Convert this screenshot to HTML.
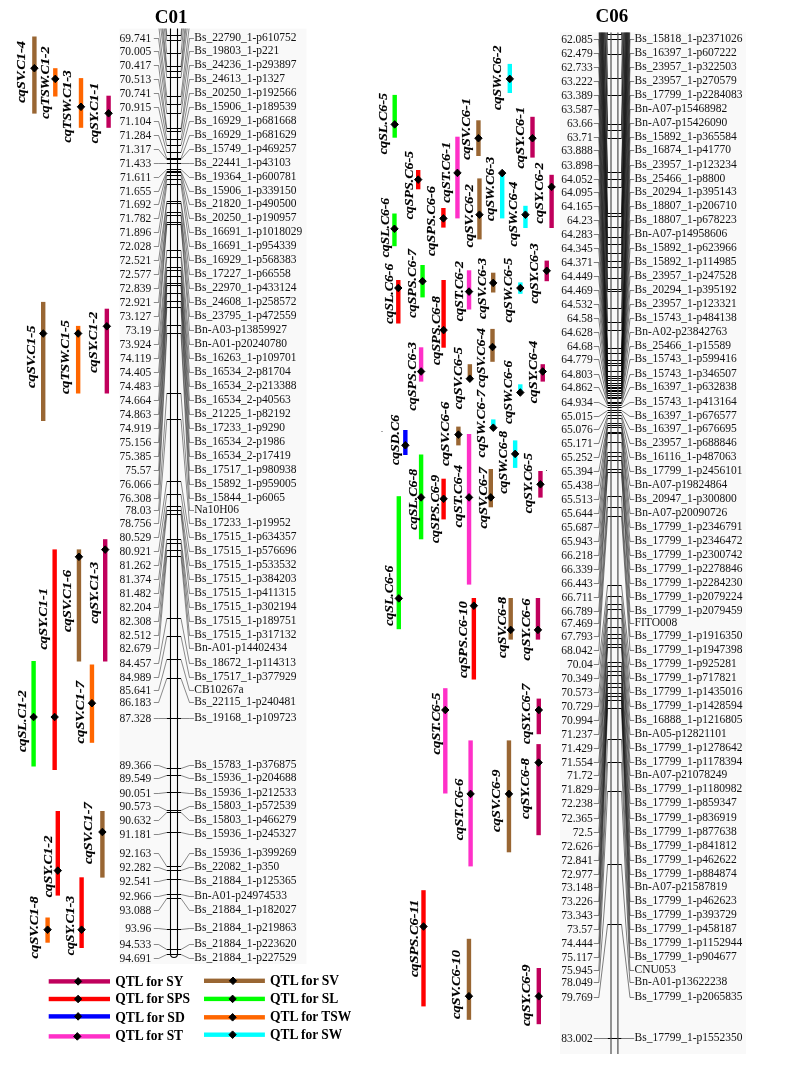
<!DOCTYPE html><html><head><meta charset="utf-8"><style>
html,body{margin:0;padding:0;background:#fff;overflow:hidden}
svg{display:block}
text{font-family:"Liberation Serif","Times New Roman",serif}
.n{font-size:11.5px;text-anchor:end;fill:#111}
.m{font-size:11.5px;fill:#111}
.q{font-size:13.3px;font-weight:bold;font-style:italic;fill:#000;stroke:#000;stroke-width:0.15px}
.t{font-size:19px;font-weight:bold;fill:#000}
.l{font-size:13.7px;font-weight:bold;fill:#000}
</style></head><body>
<svg width="785" height="1071" viewBox="0 0 785 1071">
<defs><clipPath id="k1"><rect x="119.5" y="28.6" width="187" height="935.4"/></clipPath><clipPath id="k6"><rect x="560" y="32.4" width="186" height="1021.6"/></clipPath></defs>
<rect x="119.5" y="28.6" width="187" height="935.4" fill="#f9f9f9"/>
<rect x="560" y="32.4" width="186" height="1021.6" fill="#f9f9f9"/>
<text class="t" x="171.2" y="23.1" text-anchor="middle">C01</text>
<text class="t" x="611.9" y="21.5" text-anchor="middle">C06</text>
<g clip-path="url(#k1)">
<path d="M153.8 38.5H158.6L166.8 104.5M181 104.5L189.5 38.5H194M153.8 51.5H158.6L166.8 113.5M181 113.5L189.5 51.5H194M153.8 65.5H158.6L166.8 128.5M181 128.5L189.5 65.5H194M153.8 79.5H158.6L166.8 131.5M181 131.5L189.5 79.5H194M153.8 93.5H158.6L166.8 139.5M181 139.5L189.5 93.5H194M153.8 107.5H158.6L166.8 145.5M181 145.5L189.5 107.5H194M153.8 121.5H158.6L166.8 152.5M181 152.5L189.5 121.5H194M153.8 135.5H158.6L166.8 158.5M181 158.5L189.5 135.5H194M153.8 149.5H158.6L166.8 159.5M181 159.5L189.5 149.5H194M153.8 163.5H158.6L166.8 163.5M181 163.5L189.5 163.5H194M153.8 177.5H158.6L166.8 169.5M181 169.5L189.5 177.5H194M153.8 191.5H158.6L166.8 171.5M181 171.5L189.5 191.5H194M153.8 204.5H158.6L166.8 172.5M181 172.5L189.5 204.5H194M153.8 218.5H158.6L166.8 175.5M181 175.5L189.5 218.5H194M153.8 232.5H158.6L166.8 179.5M181 179.5L189.5 232.5H194M153.8 246.5H158.6L166.8 184.5M181 184.5L189.5 246.5H194M153.8 260.5H158.6L166.8 201.5M181 201.5L189.5 260.5H194M153.8 274.5H158.6L166.8 203.5M181 203.5L189.5 274.5H194M153.8 288.5H158.6L166.8 212.5M181 212.5L189.5 288.5H194M153.8 302.5H158.6L166.8 215.5M181 215.5L189.5 302.5H194M153.8 316.5H158.6L166.8 222.5M181 222.5L189.5 316.5H194M153.8 330.5H158.6L166.8 224.5M181 224.5L189.5 330.5H194M153.8 344.5H158.6L166.8 250.5M181 250.5L189.5 344.5H194M153.8 358.5H158.6L166.8 257.5M181 257.5L189.5 358.5H194M153.8 372.5H158.6L166.8 267.5M181 267.5L189.5 372.5H194M153.8 386.5H158.6L166.8 270.5M181 270.5L189.5 386.5H194M153.8 400.5H158.6L166.8 276.5M181 276.5L189.5 400.5H194M153.8 414.5H158.6L166.8 283.5M181 283.5L189.5 414.5H194M153.8 428.5H158.6L166.8 285.5M181 285.5L189.5 428.5H194M153.8 442.5H158.6L166.8 293.5M181 293.5L189.5 442.5H194M153.8 456.5H158.6L166.8 301.5M181 301.5L189.5 456.5H194M153.8 470.5H158.6L166.8 307.5M181 307.5L189.5 470.5H194M153.8 484.5H158.6L166.8 325.5M181 325.5L189.5 484.5H194M153.8 498.5H158.6L166.8 333.5M181 333.5L189.5 498.5H194M153.8 510.5H158.6L166.8 393.5M181 393.5L189.5 510.5H194M153.8 523.5H158.6L166.8 419.5M181 419.5L189.5 523.5H194M153.8 537.5H158.6L166.8 481.5M181 481.5L189.5 537.5H194M153.8 551.5H158.6L166.8 494.5M181 494.5L189.5 551.5H194M153.8 565.5H158.6L166.8 506.5M181 506.5L189.5 565.5H194M153.8 579.5H158.6L166.8 510.5M181 510.5L189.5 579.5H194M153.8 593.5H158.6L166.8 514.5M181 514.5L189.5 593.5H194M153.8 607.5H158.6L166.8 539.5M181 539.5L189.5 607.5H194M153.8 621.5H158.6L166.8 543.5M181 543.5L189.5 621.5H194M153.8 635.5H158.6L166.8 550.5M181 550.5L189.5 635.5H194M153.8 648.5H158.6L166.8 556.5M181 556.5L189.5 648.5H194M153.8 663.5H158.6L166.8 618.5M181 618.5L189.5 663.5H194M153.8 677.5H158.6L166.8 636.5M181 636.5L189.5 677.5H194M153.8 690.5H158.6L166.8 659.5M181 659.5L189.5 690.5H194M153.8 702.5H158.6L166.8 678.5M181 678.5L189.5 702.5H194M153.8 718.5H158.6L166.8 718.5M181 718.5L189.5 718.5H194M153.8 765.5H158.6L166.8 768.5M181 768.5L189.5 765.5H194M153.8 778.5H158.6L166.8 775.5M181 775.5L189.5 778.5H194M153.8 793.5H158.6L166.8 792.5M181 792.5L189.5 793.5H194M153.8 806.5H158.6L166.8 810.5M181 810.5L189.5 806.5H194M153.8 820.5H158.6L166.8 812.5M181 812.5L189.5 820.5H194M153.8 834.5H158.6L166.8 832.5M181 832.5L189.5 834.5H194M153.8 853.5H158.6L166.8 866.5M181 866.5L189.5 853.5H194M153.8 867.5H158.6L166.8 870.5M181 870.5L189.5 867.5H194M153.8 881.5H158.6L166.8 879.5M181 879.5L189.5 881.5H194M153.8 896.5H158.6L166.8 894.5M181 894.5L189.5 896.5H194M153.8 910.5H158.6L166.8 898.5M181 898.5L189.5 910.5H194M153.8 928.5H158.6L166.8 929.5M181 929.5L189.5 928.5H194M153.8 944.5H158.6L166.8 949.5M181 949.5L189.5 944.5H194M153.8 958.5H158.6L166.8 954.5M181 954.5L189.5 958.5H194M158.6 24.63L166.8 96.5M181 96.5L189.5 24.63M158.6 10.76L166.8 77.5M181 77.5L189.5 10.76M158.6 -3.11L166.8 71.5M181 71.5L189.5 -3.11M158.6 -16.98L166.8 66.5M181 66.5L189.5 -16.98M158.6 -30.85L166.8 53.5M181 53.5L189.5 -30.85M158.6 -44.72L166.8 40.5M181 40.5L189.5 -44.72M158.6 -58.59L166.8 35.5M181 35.5L189.5 -58.59" fill="none" stroke="#000" stroke-opacity="0.45" stroke-width="1"/>
<path d="M166.8 104.5H181M166.8 113.5H181M166.8 128.5H181M166.8 131.5H181M166.8 139.5H181M166.8 145.5H181M166.8 152.5H181M166.8 158.5H181M166.8 159.5H181M166.8 163.5H181M166.8 169.5H181M166.8 171.5H181M166.8 172.5H181M166.8 175.5H181M166.8 179.5H181M166.8 184.5H181M166.8 201.5H181M166.8 203.5H181M166.8 212.5H181M166.8 215.5H181M166.8 222.5H181M166.8 224.5H181M166.8 250.5H181M166.8 257.5H181M166.8 267.5H181M166.8 270.5H181M166.8 276.5H181M166.8 283.5H181M166.8 285.5H181M166.8 293.5H181M166.8 301.5H181M166.8 307.5H181M166.8 325.5H181M166.8 333.5H181M166.8 393.5H181M166.8 419.5H181M166.8 481.5H181M166.8 494.5H181M166.8 506.5H181M166.8 510.5H181M166.8 514.5H181M166.8 539.5H181M166.8 543.5H181M166.8 550.5H181M166.8 556.5H181M166.8 618.5H181M166.8 636.5H181M166.8 659.5H181M166.8 678.5H181M166.8 718.5H181M166.8 768.5H181M166.8 775.5H181M166.8 792.5H181M166.8 810.5H181M166.8 812.5H181M166.8 832.5H181M166.8 866.5H181M166.8 870.5H181M166.8 879.5H181M166.8 894.5H181M166.8 898.5H181M166.8 929.5H181M166.8 949.5H181M166.8 954.5H181M166.8 96.5H181M166.8 77.5H181M166.8 71.5H181M166.8 66.5H181M166.8 53.5H181M166.8 40.5H181M166.8 35.5H181" fill="none" stroke="#000" stroke-width="1.0"/>
<path d="M170.5 20V954a3.5 3.5 0 0 0 7 0V20" fill="none" stroke="#000" stroke-width="1.1"/>
</g>
<text class="n" x="151.2" y="42.2">69.741</text>
<text class="m" x="194.3" y="41">Bs_22790_1-p610752</text>
<text class="n" x="151.2" y="55.2">70.005</text>
<text class="m" x="194.3" y="54">Bs_19803_1-p221</text>
<text class="n" x="151.2" y="69.2">70.417</text>
<text class="m" x="194.3" y="68">Bs_24236_1-p293897</text>
<text class="n" x="151.2" y="83.2">70.513</text>
<text class="m" x="194.3" y="82">Bs_24613_1-p1327</text>
<text class="n" x="151.2" y="97.2">70.741</text>
<text class="m" x="194.3" y="96">Bs_20250_1-p192566</text>
<text class="n" x="151.2" y="111.2">70.915</text>
<text class="m" x="194.3" y="110">Bs_15906_1-p189539</text>
<text class="n" x="151.2" y="125.2">71.104</text>
<text class="m" x="194.3" y="124">Bs_16929_1-p681668</text>
<text class="n" x="151.2" y="139.2">71.284</text>
<text class="m" x="194.3" y="138">Bs_16929_1-p681629</text>
<text class="n" x="151.2" y="153.2">71.317</text>
<text class="m" x="194.3" y="152">Bs_15749_1-p469257</text>
<text class="n" x="151.2" y="167.2">71.433</text>
<text class="m" x="194.3" y="166">Bs_22441_1-p43103</text>
<text class="n" x="151.2" y="181.2">71.611</text>
<text class="m" x="194.3" y="180">Bs_19364_1-p600781</text>
<text class="n" x="151.2" y="195.2">71.655</text>
<text class="m" x="194.3" y="194">Bs_15906_1-p339150</text>
<text class="n" x="151.2" y="208.2">71.692</text>
<text class="m" x="194.3" y="207">Bs_21820_1-p490500</text>
<text class="n" x="151.2" y="222.2">71.782</text>
<text class="m" x="194.3" y="221">Bs_20250_1-p190957</text>
<text class="n" x="151.2" y="236.2">71.896</text>
<text class="m" x="194.3" y="235">Bs_16691_1-p1018029</text>
<text class="n" x="151.2" y="250.2">72.028</text>
<text class="m" x="194.3" y="249">Bs_16691_1-p954339</text>
<text class="n" x="151.2" y="264.2">72.521</text>
<text class="m" x="194.3" y="263">Bs_16929_1-p568383</text>
<text class="n" x="151.2" y="278.2">72.577</text>
<text class="m" x="194.3" y="277">Bs_17227_1-p66558</text>
<text class="n" x="151.2" y="292.2">72.839</text>
<text class="m" x="194.3" y="291">Bs_22970_1-p433124</text>
<text class="n" x="151.2" y="306.2">72.921</text>
<text class="m" x="194.3" y="305">Bs_24608_1-p258572</text>
<text class="n" x="151.2" y="320.2">73.127</text>
<text class="m" x="194.3" y="319">Bs_23795_1-p472559</text>
<text class="n" x="151.2" y="334.2">73.19</text>
<text class="m" x="194.3" y="333">Bn-A03-p13859927</text>
<text class="n" x="151.2" y="348.2">73.924</text>
<text class="m" x="194.3" y="347">Bn-A01-p20240780</text>
<text class="n" x="151.2" y="362.2">74.119</text>
<text class="m" x="194.3" y="361">Bs_16263_1-p109701</text>
<text class="n" x="151.2" y="376.2">74.405</text>
<text class="m" x="194.3" y="375">Bs_16534_2-p81704</text>
<text class="n" x="151.2" y="390.2">74.483</text>
<text class="m" x="194.3" y="389">Bs_16534_2-p213388</text>
<text class="n" x="151.2" y="404.2">74.664</text>
<text class="m" x="194.3" y="403">Bs_16534_2-p40563</text>
<text class="n" x="151.2" y="418.2">74.863</text>
<text class="m" x="194.3" y="417">Bs_21225_1-p82192</text>
<text class="n" x="151.2" y="432.2">74.919</text>
<text class="m" x="194.3" y="431">Bs_17233_1-p9290</text>
<text class="n" x="151.2" y="446.2">75.156</text>
<text class="m" x="194.3" y="445">Bs_16534_2-p1986</text>
<text class="n" x="151.2" y="460.2">75.385</text>
<text class="m" x="194.3" y="459">Bs_16534_2-p17419</text>
<text class="n" x="151.2" y="474.2">75.57</text>
<text class="m" x="194.3" y="473">Bs_17517_1-p980938</text>
<text class="n" x="151.2" y="488.2">76.066</text>
<text class="m" x="194.3" y="487">Bs_15892_1-p959005</text>
<text class="n" x="151.2" y="502.2">76.308</text>
<text class="m" x="194.3" y="501">Bs_15844_1-p6065</text>
<text class="n" x="151.2" y="514.2">78.03</text>
<text class="m" x="194.3" y="513">Na10H06</text>
<text class="n" x="151.2" y="527.2">78.756</text>
<text class="m" x="194.3" y="526">Bs_17233_1-p19952</text>
<text class="n" x="151.2" y="541.2">80.529</text>
<text class="m" x="194.3" y="540">Bs_17515_1-p634357</text>
<text class="n" x="151.2" y="555.2">80.921</text>
<text class="m" x="194.3" y="554">Bs_17515_1-p576696</text>
<text class="n" x="151.2" y="569.2">81.262</text>
<text class="m" x="194.3" y="568">Bs_17515_1-p533532</text>
<text class="n" x="151.2" y="583.2">81.374</text>
<text class="m" x="194.3" y="582">Bs_17515_1-p384203</text>
<text class="n" x="151.2" y="597.2">81.482</text>
<text class="m" x="194.3" y="596">Bs_17515_1-p411315</text>
<text class="n" x="151.2" y="611.2">82.204</text>
<text class="m" x="194.3" y="610">Bs_17515_1-p302194</text>
<text class="n" x="151.2" y="625.2">82.308</text>
<text class="m" x="194.3" y="624">Bs_17515_1-p189751</text>
<text class="n" x="151.2" y="639.2">82.512</text>
<text class="m" x="194.3" y="638">Bs_17515_1-p317132</text>
<text class="n" x="151.2" y="652.2">82.679</text>
<text class="m" x="194.3" y="651">Bn-A01-p14402434</text>
<text class="n" x="151.2" y="667.2">84.457</text>
<text class="m" x="194.3" y="666">Bs_18672_1-p114313</text>
<text class="n" x="151.2" y="681.2">84.989</text>
<text class="m" x="194.3" y="680">Bs_17517_1-p377929</text>
<text class="n" x="151.2" y="694.2">85.641</text>
<text class="m" x="194.3" y="693">CB10267a</text>
<text class="n" x="151.2" y="706.2">86.183</text>
<text class="m" x="194.3" y="705">Bs_22115_1-p240481</text>
<text class="n" x="151.2" y="722.2">87.328</text>
<text class="m" x="194.3" y="721">Bs_19168_1-p109723</text>
<text class="n" x="151.2" y="769.2">89.366</text>
<text class="m" x="194.3" y="768">Bs_15783_1-p376875</text>
<text class="n" x="151.2" y="782.2">89.549</text>
<text class="m" x="194.3" y="781">Bs_15936_1-p204688</text>
<text class="n" x="151.2" y="797.2">90.051</text>
<text class="m" x="194.3" y="796">Bs_15936_1-p212533</text>
<text class="n" x="151.2" y="810.2">90.573</text>
<text class="m" x="194.3" y="809">Bs_15803_1-p572539</text>
<text class="n" x="151.2" y="824.2">90.632</text>
<text class="m" x="194.3" y="823">Bs_15803_1-p466279</text>
<text class="n" x="151.2" y="838.2">91.181</text>
<text class="m" x="194.3" y="837">Bs_15936_1-p245327</text>
<text class="n" x="151.2" y="857.2">92.163</text>
<text class="m" x="194.3" y="856">Bs_15936_1-p399269</text>
<text class="n" x="151.2" y="871.2">92.282</text>
<text class="m" x="194.3" y="870">Bs_22082_1-p350</text>
<text class="n" x="151.2" y="885.2">92.541</text>
<text class="m" x="194.3" y="884">Bs_21884_1-p125365</text>
<text class="n" x="151.2" y="900.2">92.966</text>
<text class="m" x="194.3" y="899">Bn-A01-p24974533</text>
<text class="n" x="151.2" y="914.2">93.088</text>
<text class="m" x="194.3" y="913">Bs_21884_1-p182027</text>
<text class="n" x="151.2" y="932.2">93.96</text>
<text class="m" x="194.3" y="931">Bs_21884_1-p219863</text>
<text class="n" x="151.2" y="948.2">94.533</text>
<text class="m" x="194.3" y="947">Bs_21884_1-p223620</text>
<text class="n" x="151.2" y="962.2">94.691</text>
<text class="m" x="194.3" y="961">Bs_21884_1-p227529</text>
<g clip-path="url(#k6)">
<path d="M593.8 39.5H598.8L607.6 308.5M621.5 308.5L630 39.5H634.2M593.8 53.5H598.8L607.6 322.5M621.5 322.5L630 53.5H634.2M593.8 67.5H598.8L607.6 330.5M621.5 330.5L630 67.5H634.2M593.8 81.5H598.8L607.6 348.5M621.5 348.5L630 81.5H634.2M593.8 95.5H598.8L607.6 353.5M621.5 353.5L630 95.5H634.2M593.8 109.5H598.8L607.6 360.5M621.5 360.5L630 109.5H634.2M593.8 123.5H598.8L607.6 363.5M621.5 363.5L630 123.5H634.2M593.8 137.5H598.8L607.6 365.5M621.5 365.5L630 137.5H634.2M593.8 150.5H598.8L607.6 371.5M621.5 371.5L630 150.5H634.2M593.8 165.5H598.8L607.6 371.5M621.5 371.5L630 165.5H634.2M593.8 179.5H598.8L607.6 376.5M621.5 376.5L630 179.5H634.2M593.8 192.5H598.8L607.6 378.5M621.5 378.5L630 192.5H634.2M593.8 206.5H598.8L607.6 380.5M621.5 380.5L630 206.5H634.2M593.8 220.5H598.8L607.6 383.5M621.5 383.5L630 220.5H634.2M593.8 234.5H598.8L607.6 385.5M621.5 385.5L630 234.5H634.2M593.8 248.5H598.8L607.6 387.5M621.5 387.5L630 248.5H634.2M593.8 262.5H598.8L607.6 388.5M621.5 388.5L630 262.5H634.2M593.8 276.5H598.8L607.6 390.5M621.5 390.5L630 276.5H634.2M593.8 290.5H598.8L607.6 391.5M621.5 391.5L630 290.5H634.2M593.8 304.5H598.8L607.6 393.5M621.5 393.5L630 304.5H634.2M593.8 318.5H598.8L607.6 395.5M621.5 395.5L630 318.5H634.2M593.8 332.5H598.8L607.6 397.5M621.5 397.5L630 332.5H634.2M593.8 346.5H598.8L607.6 398.5M621.5 398.5L630 346.5H634.2M593.8 359.5H598.8L607.6 402.5M621.5 402.5L630 359.5H634.2M593.8 374.5H598.8L607.6 403.5M621.5 403.5L630 374.5H634.2M593.8 387.5H598.8L607.6 405.5M621.5 405.5L630 387.5H634.2M593.8 402.5H598.8L607.6 407.5M621.5 407.5L630 402.5H634.2M593.8 416.5H598.8L607.6 410.5M621.5 410.5L630 416.5H634.2M593.8 429.5H598.8L607.6 412.5M621.5 412.5L630 429.5H634.2M593.8 443.5H598.8L607.6 415.5M621.5 415.5L630 443.5H634.2M593.8 457.5H598.8L607.6 418.5M621.5 418.5L630 457.5H634.2M593.8 471.5H598.8L607.6 423.5M621.5 423.5L630 471.5H634.2M593.8 485.5H598.8L607.6 425.5M621.5 425.5L630 485.5H634.2M593.8 499.5H598.8L607.6 427.5M621.5 427.5L630 499.5H634.2M593.8 513.5H598.8L607.6 432.5M621.5 432.5L630 513.5H634.2M593.8 527.5H598.8L607.6 433.5M621.5 433.5L630 527.5H634.2M593.8 541.5H598.8L607.6 442.5M621.5 442.5L630 541.5H634.2M593.8 555.5H598.8L607.6 452.5M621.5 452.5L630 555.5H634.2M593.8 569.5H598.8L607.6 456.5M621.5 456.5L630 569.5H634.2M593.8 583.5H598.8L607.6 460.5M621.5 460.5L630 583.5H634.2M593.8 597.5H598.8L607.6 469.5M621.5 469.5L630 597.5H634.2M593.8 611.5H598.8L607.6 472.5M621.5 472.5L630 611.5H634.2M593.8 623.5H598.8L607.6 496.5M621.5 496.5L630 623.5H634.2M593.8 636.5H598.8L607.6 507.5M621.5 507.5L630 636.5H634.2M593.8 650.5H598.8L607.6 516.5M621.5 516.5L630 650.5H634.2M593.8 664.5H598.8L607.6 585.5M621.5 585.5L630 664.5H634.2M593.8 678.5H598.8L607.6 596.5M621.5 596.5L630 678.5H634.2M593.8 692.5H598.8L607.6 604.5M621.5 604.5L630 692.5H634.2M593.8 706.5H598.8L607.6 609.5M621.5 609.5L630 706.5H634.2M593.8 720.5H598.8L607.6 618.5M621.5 618.5L630 720.5H634.2M593.8 734.5H598.8L607.6 627.5M621.5 627.5L630 734.5H634.2M593.8 748.5H598.8L607.6 634.5M621.5 634.5L630 748.5H634.2M593.8 762.5H598.8L607.6 638.5M621.5 638.5L630 762.5H634.2M593.8 775.5H598.8L607.6 644.5M621.5 644.5L630 775.5H634.2M593.8 789.5H598.8L607.6 647.5M621.5 647.5L630 789.5H634.2M593.8 803.5H598.8L607.6 662.5M621.5 662.5L630 803.5H634.2M593.8 818.5H598.8L607.6 666.5M621.5 666.5L630 818.5H634.2M593.8 832.5H598.8L607.6 671.5M621.5 671.5L630 832.5H634.2M593.8 846.5H598.8L607.6 675.5M621.5 675.5L630 846.5H634.2M593.8 860.5H598.8L607.6 683.5M621.5 683.5L630 860.5H634.2M593.8 874.5H598.8L607.6 687.5M621.5 687.5L630 874.5H634.2M593.8 887.5H598.8L607.6 693.5M621.5 693.5L630 887.5H634.2M593.8 901.5H598.8L607.6 696.5M621.5 696.5L630 901.5H634.2M593.8 915.5H598.8L607.6 700.5M621.5 700.5L630 915.5H634.2M593.8 929.5H598.8L607.6 708.5M621.5 708.5L630 929.5H634.2M593.8 943.5H598.8L607.6 739.5M621.5 739.5L630 943.5H634.2M593.8 957.5H598.8L607.6 762.5M621.5 762.5L630 957.5H634.2M593.8 970.5H598.8L607.6 791.5M621.5 791.5L630 970.5H634.2M593.8 982.5H598.8L607.6 864.5M621.5 864.5L630 982.5H634.2M593.8 997.5H598.8L607.6 924.5M621.5 924.5L630 997.5H634.2M593.8 1038.5H598.8L607.6 1038.5M621.5 1038.5L630 1038.5H634.2M598.8 25.63L607.6 291.5M621.5 291.5L630 25.63M598.8 11.76L607.6 289.5M621.5 289.5L630 11.76M598.8 -2.11L607.6 278.5M621.5 278.5L630 -2.11M598.8 -15.98L607.6 267.5M621.5 267.5L630 -15.98M598.8 -29.85L607.6 261.5M621.5 261.5L630 -29.85M598.8 -43.72L607.6 253.5M621.5 253.5L630 -43.72M598.8 -57.59L607.6 244.5M621.5 244.5L630 -57.59M598.8 -71.46L607.6 237.5M621.5 237.5L630 -71.46M598.8 -85.33L607.6 227.5M621.5 227.5L630 -85.33M598.8 -99.2L607.6 216.5M621.5 216.5L630 -99.2M598.8 -113.07L607.6 213.5M621.5 213.5L630 -113.07M598.8 -126.94L607.6 187.5M621.5 187.5L630 -126.94M598.8 -140.81L607.6 179.5M621.5 179.5L630 -140.81M598.8 -154.68L607.6 172.5M621.5 172.5L630 -154.68M598.8 -168.55L607.6 138.5M621.5 138.5L630 -168.55M598.8 -182.42L607.6 130.5M621.5 130.5L630 -182.42M598.8 -196.29L607.6 124.5M621.5 124.5L630 -196.29M598.8 -210.16L607.6 95.5M621.5 95.5L630 -210.16M598.8 -224.03L607.6 78.5M621.5 78.5L630 -224.03M598.8 -237.9L607.6 54.5M621.5 54.5L630 -237.9M598.8 -251.77L607.6 39.5M621.5 39.5L630 -251.77M598.8 -265.64L607.6 34.5M621.5 34.5L630 -265.64" fill="none" stroke="#000" stroke-opacity="0.5" stroke-width="1"/>
<path d="M607.6 308.5H621.5M607.6 322.5H621.5M607.6 330.5H621.5M607.6 348.5H621.5M607.6 353.5H621.5M607.6 360.5H621.5M607.6 363.5H621.5M607.6 365.5H621.5M607.6 371.5H621.5M607.6 371.5H621.5M607.6 376.5H621.5M607.6 378.5H621.5M607.6 380.5H621.5M607.6 383.5H621.5M607.6 385.5H621.5M607.6 387.5H621.5M607.6 388.5H621.5M607.6 390.5H621.5M607.6 391.5H621.5M607.6 393.5H621.5M607.6 395.5H621.5M607.6 397.5H621.5M607.6 398.5H621.5M607.6 402.5H621.5M607.6 403.5H621.5M607.6 405.5H621.5M607.6 407.5H621.5M607.6 410.5H621.5M607.6 412.5H621.5M607.6 415.5H621.5M607.6 418.5H621.5M607.6 423.5H621.5M607.6 425.5H621.5M607.6 427.5H621.5M607.6 432.5H621.5M607.6 433.5H621.5M607.6 442.5H621.5M607.6 452.5H621.5M607.6 456.5H621.5M607.6 460.5H621.5M607.6 469.5H621.5M607.6 472.5H621.5M607.6 496.5H621.5M607.6 507.5H621.5M607.6 516.5H621.5M607.6 585.5H621.5M607.6 596.5H621.5M607.6 604.5H621.5M607.6 609.5H621.5M607.6 618.5H621.5M607.6 627.5H621.5M607.6 634.5H621.5M607.6 638.5H621.5M607.6 644.5H621.5M607.6 647.5H621.5M607.6 662.5H621.5M607.6 666.5H621.5M607.6 671.5H621.5M607.6 675.5H621.5M607.6 683.5H621.5M607.6 687.5H621.5M607.6 693.5H621.5M607.6 696.5H621.5M607.6 700.5H621.5M607.6 708.5H621.5M607.6 739.5H621.5M607.6 762.5H621.5M607.6 791.5H621.5M607.6 864.5H621.5M607.6 924.5H621.5M607.6 1038.5H621.5M607.6 291.5H621.5M607.6 289.5H621.5M607.6 278.5H621.5M607.6 267.5H621.5M607.6 261.5H621.5M607.6 253.5H621.5M607.6 244.5H621.5M607.6 237.5H621.5M607.6 227.5H621.5M607.6 216.5H621.5M607.6 213.5H621.5M607.6 187.5H621.5M607.6 179.5H621.5M607.6 172.5H621.5M607.6 138.5H621.5M607.6 130.5H621.5M607.6 124.5H621.5M607.6 95.5H621.5M607.6 78.5H621.5M607.6 54.5H621.5M607.6 39.5H621.5M607.6 34.5H621.5" fill="none" stroke="#000" stroke-width="1.0"/>
<path d="M611 20V1060M617.9 20V1060" fill="none" stroke="#555" stroke-width="1.25"/>
</g>
<text class="n" x="592.8" y="43.2">62.085</text>
<text class="m" x="634.6" y="42">Bs_15818_1-p2371026</text>
<text class="n" x="592.8" y="57.2">62.479</text>
<text class="m" x="634.6" y="56">Bs_16397_1-p607222</text>
<text class="n" x="592.8" y="71.2">62.733</text>
<text class="m" x="634.6" y="70">Bs_23957_1-p322503</text>
<text class="n" x="592.8" y="85.2">63.222</text>
<text class="m" x="634.6" y="84">Bs_23957_1-p270579</text>
<text class="n" x="592.8" y="99.2">63.389</text>
<text class="m" x="634.6" y="98">Bs_17799_1-p2284083</text>
<text class="n" x="592.8" y="113.2">63.587</text>
<text class="m" x="634.6" y="112">Bn-A07-p15468982</text>
<text class="n" x="592.8" y="127.2">63.66</text>
<text class="m" x="634.6" y="126">Bn-A07-p15426090</text>
<text class="n" x="592.8" y="141.2">63.71</text>
<text class="m" x="634.6" y="140">Bs_15892_1-p365584</text>
<text class="n" x="592.8" y="154.2">63.888</text>
<text class="m" x="634.6" y="153">Bs_16874_1-p41770</text>
<text class="n" x="592.8" y="169.2">63.898</text>
<text class="m" x="634.6" y="168">Bs_23957_1-p123234</text>
<text class="n" x="592.8" y="183.2">64.052</text>
<text class="m" x="634.6" y="182">Bs_25466_1-p8800</text>
<text class="n" x="592.8" y="196.2">64.095</text>
<text class="m" x="634.6" y="195">Bs_20294_1-p395143</text>
<text class="n" x="592.8" y="210.2">64.165</text>
<text class="m" x="634.6" y="209">Bs_18807_1-p206710</text>
<text class="n" x="592.8" y="224.2">64.23</text>
<text class="m" x="634.6" y="223">Bs_18807_1-p678223</text>
<text class="n" x="592.8" y="238.2">64.283</text>
<text class="m" x="634.6" y="237">Bn-A07-p14958606</text>
<text class="n" x="592.8" y="252.2">64.345</text>
<text class="m" x="634.6" y="251">Bs_15892_1-p623966</text>
<text class="n" x="592.8" y="266.2">64.371</text>
<text class="m" x="634.6" y="265">Bs_15892_1-p114985</text>
<text class="n" x="592.8" y="280.2">64.449</text>
<text class="m" x="634.6" y="279">Bs_23957_1-p247528</text>
<text class="n" x="592.8" y="294.2">64.469</text>
<text class="m" x="634.6" y="293">Bs_20294_1-p395192</text>
<text class="n" x="592.8" y="308.2">64.532</text>
<text class="m" x="634.6" y="307">Bs_23957_1-p123321</text>
<text class="n" x="592.8" y="322.2">64.58</text>
<text class="m" x="634.6" y="321">Bs_15743_1-p484138</text>
<text class="n" x="592.8" y="336.2">64.628</text>
<text class="m" x="634.6" y="335">Bn-A02-p23842763</text>
<text class="n" x="592.8" y="350.2">64.68</text>
<text class="m" x="634.6" y="349">Bs_25466_1-p15589</text>
<text class="n" x="592.8" y="363.2">64.779</text>
<text class="m" x="634.6" y="362">Bs_15743_1-p599416</text>
<text class="n" x="592.8" y="378.2">64.803</text>
<text class="m" x="634.6" y="377">Bs_15743_1-p346507</text>
<text class="n" x="592.8" y="391.2">64.862</text>
<text class="m" x="634.6" y="390">Bs_16397_1-p632838</text>
<text class="n" x="592.8" y="406.2">64.934</text>
<text class="m" x="634.6" y="405">Bs_15743_1-p413164</text>
<text class="n" x="592.8" y="420.2">65.015</text>
<text class="m" x="634.6" y="419">Bs_16397_1-p676577</text>
<text class="n" x="592.8" y="433.2">65.076</text>
<text class="m" x="634.6" y="432">Bs_16397_1-p676695</text>
<text class="n" x="592.8" y="447.2">65.171</text>
<text class="m" x="634.6" y="446">Bs_23957_1-p688846</text>
<text class="n" x="592.8" y="461.2">65.252</text>
<text class="m" x="634.6" y="460">Bs_16116_1-p487063</text>
<text class="n" x="592.8" y="475.2">65.394</text>
<text class="m" x="634.6" y="474">Bs_17799_1-p2456101</text>
<text class="n" x="592.8" y="489.2">65.438</text>
<text class="m" x="634.6" y="488">Bn-A07-p19824864</text>
<text class="n" x="592.8" y="503.2">65.513</text>
<text class="m" x="634.6" y="502">Bs_20947_1-p300800</text>
<text class="n" x="592.8" y="517.2">65.644</text>
<text class="m" x="634.6" y="516">Bn-A07-p20090726</text>
<text class="n" x="592.8" y="531.2">65.687</text>
<text class="m" x="634.6" y="530">Bs_17799_1-p2346791</text>
<text class="n" x="592.8" y="545.2">65.943</text>
<text class="m" x="634.6" y="544">Bs_17799_1-p2346472</text>
<text class="n" x="592.8" y="559.2">66.218</text>
<text class="m" x="634.6" y="558">Bs_17799_1-p2300742</text>
<text class="n" x="592.8" y="573.2">66.339</text>
<text class="m" x="634.6" y="572">Bs_17799_1-p2278846</text>
<text class="n" x="592.8" y="587.2">66.443</text>
<text class="m" x="634.6" y="586">Bs_17799_1-p2284230</text>
<text class="n" x="592.8" y="601.2">66.711</text>
<text class="m" x="634.6" y="600">Bs_17799_1-p2079224</text>
<text class="n" x="592.8" y="615.2">66.789</text>
<text class="m" x="634.6" y="614">Bs_17799_1-p2079459</text>
<text class="n" x="592.8" y="627.2">67.469</text>
<text class="m" x="634.6" y="626">FITO008</text>
<text class="n" x="592.8" y="640.2">67.793</text>
<text class="m" x="634.6" y="639">Bs_17799_1-p1916350</text>
<text class="n" x="592.8" y="654.2">68.042</text>
<text class="m" x="634.6" y="653">Bs_17799_1-p1947398</text>
<text class="n" x="592.8" y="668.2">70.04</text>
<text class="m" x="634.6" y="667">Bs_17799_1-p925281</text>
<text class="n" x="592.8" y="682.2">70.349</text>
<text class="m" x="634.6" y="681">Bs_17799_1-p717821</text>
<text class="n" x="592.8" y="696.2">70.573</text>
<text class="m" x="634.6" y="695">Bs_17799_1-p1435016</text>
<text class="n" x="592.8" y="710.2">70.729</text>
<text class="m" x="634.6" y="709">Bs_17799_1-p1428594</text>
<text class="n" x="592.8" y="724.2">70.994</text>
<text class="m" x="634.6" y="723">Bs_16888_1-p1216805</text>
<text class="n" x="592.8" y="738.2">71.237</text>
<text class="m" x="634.6" y="737">Bn-A05-p12821101</text>
<text class="n" x="592.8" y="752.2">71.429</text>
<text class="m" x="634.6" y="751">Bs_17799_1-p1278642</text>
<text class="n" x="592.8" y="766.2">71.554</text>
<text class="m" x="634.6" y="765">Bs_17799_1-p1178394</text>
<text class="n" x="592.8" y="779.2">71.72</text>
<text class="m" x="634.6" y="778">Bn-A07-p21078249</text>
<text class="n" x="592.8" y="793.2">71.829</text>
<text class="m" x="634.6" y="792">Bs_17799_1-p1180982</text>
<text class="n" x="592.8" y="807.2">72.238</text>
<text class="m" x="634.6" y="806">Bs_17799_1-p859347</text>
<text class="n" x="592.8" y="822.2">72.365</text>
<text class="m" x="634.6" y="821">Bs_17799_1-p836919</text>
<text class="n" x="592.8" y="836.2">72.5</text>
<text class="m" x="634.6" y="835">Bs_17799_1-p877638</text>
<text class="n" x="592.8" y="850.2">72.626</text>
<text class="m" x="634.6" y="849">Bs_17799_1-p841812</text>
<text class="n" x="592.8" y="864.2">72.841</text>
<text class="m" x="634.6" y="863">Bs_17799_1-p462622</text>
<text class="n" x="592.8" y="878.2">72.977</text>
<text class="m" x="634.6" y="877">Bs_17799_1-p884874</text>
<text class="n" x="592.8" y="891.2">73.148</text>
<text class="m" x="634.6" y="890">Bn-A07-p21587819</text>
<text class="n" x="592.8" y="905.2">73.226</text>
<text class="m" x="634.6" y="904">Bs_17799_1-p462623</text>
<text class="n" x="592.8" y="919.2">73.343</text>
<text class="m" x="634.6" y="918">Bs_17799_1-p393729</text>
<text class="n" x="592.8" y="933.2">73.57</text>
<text class="m" x="634.6" y="932">Bs_17799_1-p458187</text>
<text class="n" x="592.8" y="947.2">74.444</text>
<text class="m" x="634.6" y="946">Bs_17799_1-p1152944</text>
<text class="n" x="592.8" y="961.2">75.117</text>
<text class="m" x="634.6" y="960">Bs_17799_1-p904677</text>
<text class="n" x="592.8" y="974.2">75.945</text>
<text class="m" x="634.6" y="973">CNU053</text>
<text class="n" x="592.8" y="986.2">78.049</text>
<text class="m" x="634.6" y="985">Bn-A01-p13622238</text>
<text class="n" x="592.8" y="1001.2">79.769</text>
<text class="m" x="634.6" y="1000">Bs_17799_1-p2065835</text>
<text class="n" x="592.8" y="1042.2">83.002</text>
<text class="m" x="634.6" y="1041">Bs_17799_1-p1552350</text>
<rect x="32.2" y="36.5" width="4.4" height="77.1" fill="#996633"/>
<path d="M34.4 64.4l3.7 3.8l-3.7 3.8l-3.7 -3.8z" fill="#000" stroke="#000" stroke-width="1" stroke-linejoin="round"/>
<text class="q" transform="translate(25.49 102.81) rotate(-90)" textLength="61.83" lengthAdjust="spacingAndGlyphs">cqSV.C1-4</text>
<rect x="53.1" y="68.2" width="4.4" height="28.3" fill="#ff6600"/>
<path d="M55.3 75.1l3.7 3.8l-3.7 3.8l-3.7 -3.8z" fill="#000" stroke="#000" stroke-width="1" stroke-linejoin="round"/>
<text class="q" transform="translate(48.79 118.8) rotate(-90)" textLength="72.32" lengthAdjust="spacingAndGlyphs">cqTSW.C1-2</text>
<rect x="78.8" y="78.1" width="4.4" height="49.7" fill="#ff6600"/>
<path d="M81 103l3.7 3.8l-3.7 3.8l-3.7 -3.8z" fill="#000" stroke="#000" stroke-width="1" stroke-linejoin="round"/>
<text class="q" transform="translate(70.64 142.5) rotate(-90)" textLength="72.37" lengthAdjust="spacingAndGlyphs">cqTSW.C1-3</text>
<rect x="106.4" y="95.7" width="4.4" height="32.1" fill="#c0005c"/>
<path d="M108.6 109.5l3.7 3.8l-3.7 3.8l-3.7 -3.8z" fill="#000" stroke="#000" stroke-width="1" stroke-linejoin="round"/>
<text class="q" transform="translate(98.49 143.3) rotate(-90)" textLength="60.51" lengthAdjust="spacingAndGlyphs">cqSY.C1-1</text>
<rect x="41" y="301.9" width="4.4" height="119.1" fill="#996633"/>
<path d="M43.2 329.7l3.7 3.8l-3.7 3.8l-3.7 -3.8z" fill="#000" stroke="#000" stroke-width="1" stroke-linejoin="round"/>
<text class="q" transform="translate(35.44 388.01) rotate(-90)" textLength="62.47" lengthAdjust="spacingAndGlyphs">cqSV.C1-5</text>
<rect x="75.95" y="325.9" width="4.4" height="67.6" fill="#ff6600"/>
<path d="M78.15 329.7l3.7 3.8l-3.7 3.8l-3.7 -3.8z" fill="#000" stroke="#000" stroke-width="1" stroke-linejoin="round"/>
<text class="q" transform="translate(69.04 394.11) rotate(-90)" textLength="73.97" lengthAdjust="spacingAndGlyphs">cqTSW.C1-5</text>
<rect x="104.65" y="308.7" width="4.4" height="84.8" fill="#c0005c"/>
<path d="M106.85 322.5l3.7 3.8l-3.7 3.8l-3.7 -3.8z" fill="#000" stroke="#000" stroke-width="1" stroke-linejoin="round"/>
<text class="q" transform="translate(97.19 372.7) rotate(-90)" textLength="61.03" lengthAdjust="spacingAndGlyphs">cqSY.C1-2</text>
<rect x="52.45" y="549.4" width="4.4" height="220.6" fill="#ff0000"/>
<path d="M54.65 713.2l3.7 3.8l-3.7 3.8l-3.7 -3.8z" fill="#000" stroke="#000" stroke-width="1" stroke-linejoin="round"/>
<text class="q" transform="translate(46.74 649.51) rotate(-90)" textLength="61.33" lengthAdjust="spacingAndGlyphs">cqSY.C1-1</text>
<rect x="76.75" y="549.4" width="4.4" height="112.1" fill="#996633"/>
<path d="M78.95 553l3.7 3.8l-3.7 3.8l-3.7 -3.8z" fill="#000" stroke="#000" stroke-width="1" stroke-linejoin="round"/>
<text class="q" transform="translate(70.99 631.91) rotate(-90)" textLength="61.91" lengthAdjust="spacingAndGlyphs">cqSV.C1-6</text>
<rect x="103" y="539.2" width="4.4" height="122.3" fill="#c0005c"/>
<path d="M105.2 545.8l3.7 3.8l-3.7 3.8l-3.7 -3.8z" fill="#000" stroke="#000" stroke-width="1" stroke-linejoin="round"/>
<text class="q" transform="translate(98.29 623.51) rotate(-90)" textLength="61.79" lengthAdjust="spacingAndGlyphs">cqSY.C1-3</text>
<rect x="31.4" y="661" width="4.4" height="105.5" fill="#00ff00"/>
<path d="M33.6 713.2l3.7 3.8l-3.7 3.8l-3.7 -3.8z" fill="#000" stroke="#000" stroke-width="1" stroke-linejoin="round"/>
<text class="q" transform="translate(25.69 751.91) rotate(-90)" textLength="61.73" lengthAdjust="spacingAndGlyphs">cqSL.C1-2</text>
<rect x="89.75" y="664.5" width="4.4" height="78.3" fill="#ff6600"/>
<path d="M91.95 699.4l3.7 3.8l-3.7 3.8l-3.7 -3.8z" fill="#000" stroke="#000" stroke-width="1" stroke-linejoin="round"/>
<text class="q" transform="translate(83.94 743.51) rotate(-90)" textLength="62.44" lengthAdjust="spacingAndGlyphs">cqSV.C1-7</text>
<rect x="55.6" y="811" width="4.4" height="84.6" fill="#ff0000"/>
<path d="M57.8 866.8l3.7 3.8l-3.7 3.8l-3.7 -3.8z" fill="#000" stroke="#000" stroke-width="1" stroke-linejoin="round"/>
<text class="q" transform="translate(51.74 897.31) rotate(-90)" textLength="61.63" lengthAdjust="spacingAndGlyphs">cqSY.C1-2</text>
<rect x="100.2" y="811" width="4.4" height="66.6" fill="#996633"/>
<path d="M102.4 828.2l3.7 3.8l-3.7 3.8l-3.7 -3.8z" fill="#000" stroke="#000" stroke-width="1" stroke-linejoin="round"/>
<text class="q" transform="translate(92.19 864) rotate(-90)" textLength="61.64" lengthAdjust="spacingAndGlyphs">cqSV.C1-7</text>
<rect x="45.4" y="917.5" width="4.4" height="25.2" fill="#ff6600"/>
<path d="M47.6 925.9l3.7 3.8l-3.7 3.8l-3.7 -3.8z" fill="#000" stroke="#000" stroke-width="1" stroke-linejoin="round"/>
<text class="q" transform="translate(38.26 958.51) rotate(-90)" textLength="62.42" lengthAdjust="spacingAndGlyphs">cqSV.C1-8</text>
<rect x="79.4" y="877.3" width="4.4" height="70.7" fill="#ff0000"/>
<path d="M81.6 925.9l3.7 3.8l-3.7 3.8l-3.7 -3.8z" fill="#000" stroke="#000" stroke-width="1" stroke-linejoin="round"/>
<text class="q" transform="translate(73.89 955.2) rotate(-90)" textLength="59.26" lengthAdjust="spacingAndGlyphs">cqSY.C1-3</text>
<rect x="507.6" y="63.9" width="4.4" height="29.1" fill="#00ffff"/>
<path d="M509.8 75.1l3.7 3.8l-3.7 3.8l-3.7 -3.8z" fill="#000" stroke="#000" stroke-width="1" stroke-linejoin="round"/>
<text class="q" transform="translate(501.19 110.1) rotate(-90)" textLength="64.72" lengthAdjust="spacingAndGlyphs">cqSW.C6-2</text>
<rect x="392.5" y="94.9" width="4.4" height="42.8" fill="#00ff00"/>
<path d="M394.7 120.6l3.7 3.8l-3.7 3.8l-3.7 -3.8z" fill="#000" stroke="#000" stroke-width="1" stroke-linejoin="round"/>
<text class="q" transform="translate(386.79 154.21) rotate(-90)" textLength="61.17" lengthAdjust="spacingAndGlyphs">cqSL.C6-5</text>
<rect x="476.25" y="120.3" width="4.4" height="35.7" fill="#996633"/>
<path d="M478.45 134.4l3.7 3.8l-3.7 3.8l-3.7 -3.8z" fill="#000" stroke="#000" stroke-width="1" stroke-linejoin="round"/>
<text class="q" transform="translate(470.44 159.8) rotate(-90)" textLength="61.72" lengthAdjust="spacingAndGlyphs">cqSV.C6-1</text>
<rect x="530.3" y="116.8" width="4.4" height="40.8" fill="#c0005c"/>
<path d="M532.5 134.4l3.7 3.8l-3.7 3.8l-3.7 -3.8z" fill="#000" stroke="#000" stroke-width="1" stroke-linejoin="round"/>
<text class="q" transform="translate(523.79 168.51) rotate(-90)" textLength="61.64" lengthAdjust="spacingAndGlyphs">cqSY.C6-1</text>
<rect x="455.25" y="136.7" width="4.4" height="81.7" fill="#ff30c8"/>
<path d="M457.45 169.1l3.7 3.8l-3.7 3.8l-3.7 -3.8z" fill="#000" stroke="#000" stroke-width="1" stroke-linejoin="round"/>
<text class="q" transform="translate(449.94 202.8) rotate(-90)" textLength="60.92" lengthAdjust="spacingAndGlyphs">cqST.C6-1</text>
<rect x="416" y="170" width="4.4" height="19.3" fill="#ff0000"/>
<path d="M418.2 175.8l3.7 3.8l-3.7 3.8l-3.7 -3.8z" fill="#000" stroke="#000" stroke-width="1" stroke-linejoin="round"/>
<text class="q" transform="translate(412.79 219.3) rotate(-90)" textLength="68.36" lengthAdjust="spacingAndGlyphs">cqSPS.C6-5</text>
<rect x="441.2" y="208" width="4.4" height="19.6" fill="#ff0000"/>
<path d="M443.4 214.6l3.7 3.8l-3.7 3.8l-3.7 -3.8z" fill="#000" stroke="#000" stroke-width="1" stroke-linejoin="round"/>
<text class="q" transform="translate(435.09 256.11) rotate(-90)" textLength="69.91" lengthAdjust="spacingAndGlyphs">cqSPS.C6-6</text>
<rect x="477.25" y="178.4" width="4.4" height="61" fill="#996633"/>
<path d="M479.45 210.9l3.7 3.8l-3.7 3.8l-3.7 -3.8z" fill="#000" stroke="#000" stroke-width="1" stroke-linejoin="round"/>
<text class="q" transform="translate(472.99 247.61) rotate(-90)" textLength="63.44" lengthAdjust="spacingAndGlyphs">cqSV.C6-2</text>
<rect x="500" y="173.1" width="4.4" height="45.3" fill="#00ffff"/>
<path d="M502.2 169.3l3.7 3.8l-3.7 3.8l-3.7 -3.8z" fill="#000" stroke="#000" stroke-width="1" stroke-linejoin="round"/>
<text class="q" transform="translate(494.49 221) rotate(-90)" textLength="64.28" lengthAdjust="spacingAndGlyphs">cqSW.C6-3</text>
<rect x="523.25" y="205.8" width="4.4" height="22.2" fill="#00ffff"/>
<path d="M525.45 210.9l3.7 3.8l-3.7 3.8l-3.7 -3.8z" fill="#000" stroke="#000" stroke-width="1" stroke-linejoin="round"/>
<text class="q" transform="translate(516.79 246.4) rotate(-90)" textLength="64.83" lengthAdjust="spacingAndGlyphs">cqSW.C6-4</text>
<rect x="549.4" y="174.8" width="4.4" height="53.2" fill="#c0005c"/>
<path d="M551.6 183.1l3.7 3.8l-3.7 3.8l-3.7 -3.8z" fill="#000" stroke="#000" stroke-width="1" stroke-linejoin="round"/>
<text class="q" transform="translate(542.89 223.4) rotate(-90)" textLength="61.03" lengthAdjust="spacingAndGlyphs">cqSY.C6-2</text>
<rect x="392.25" y="213.5" width="4.4" height="32.7" fill="#00ff00"/>
<path d="M394.45 225l3.7 3.8l-3.7 3.8l-3.7 -3.8z" fill="#000" stroke="#000" stroke-width="1" stroke-linejoin="round"/>
<text class="q" transform="translate(388.84 257.3) rotate(-90)" textLength="59.5" lengthAdjust="spacingAndGlyphs">cqSL.C6-6</text>
<rect x="396.1" y="280" width="4.4" height="43.5" fill="#ff0000"/>
<path d="M398.3 284.2l3.7 3.8l-3.7 3.8l-3.7 -3.8z" fill="#000" stroke="#000" stroke-width="1" stroke-linejoin="round"/>
<text class="q" transform="translate(393.19 323.7) rotate(-90)" textLength="60" lengthAdjust="spacingAndGlyphs">cqSL.C6-6</text>
<rect x="420.35" y="265" width="4.4" height="32.4" fill="#00ff00"/>
<path d="M422.55 277.4l3.7 3.8l-3.7 3.8l-3.7 -3.8z" fill="#000" stroke="#000" stroke-width="1" stroke-linejoin="round"/>
<text class="q" transform="translate(416.04 317.7) rotate(-90)" textLength="68.74" lengthAdjust="spacingAndGlyphs">cqSPS.C6-7</text>
<rect x="441.4" y="280" width="4.4" height="67.7" fill="#ff0000"/>
<path d="M443.6 326.3l3.7 3.8l-3.7 3.8l-3.7 -3.8z" fill="#000" stroke="#000" stroke-width="1" stroke-linejoin="round"/>
<text class="q" transform="translate(440.26 364.91) rotate(-90)" textLength="68.92" lengthAdjust="spacingAndGlyphs">cqSPS.C6-8</text>
<rect x="466.85" y="270.3" width="4.4" height="39.2" fill="#ff30c8"/>
<path d="M469.05 287.8l3.7 3.8l-3.7 3.8l-3.7 -3.8z" fill="#000" stroke="#000" stroke-width="1" stroke-linejoin="round"/>
<text class="q" transform="translate(462.64 321.3) rotate(-90)" textLength="60.32" lengthAdjust="spacingAndGlyphs">cqST.C6-2</text>
<rect x="491" y="272.7" width="4.4" height="19.8" fill="#996633"/>
<path d="M493.2 279.1l3.7 3.8l-3.7 3.8l-3.7 -3.8z" fill="#000" stroke="#000" stroke-width="1" stroke-linejoin="round"/>
<text class="q" transform="translate(486.24 318.9) rotate(-90)" textLength="61.07" lengthAdjust="spacingAndGlyphs">cqSV.C6-3</text>
<rect x="518.15" y="282.4" width="4.4" height="11.4" fill="#00ffff"/>
<path d="M520.35 284.2l3.7 3.8l-3.7 3.8l-3.7 -3.8z" fill="#000" stroke="#000" stroke-width="1" stroke-linejoin="round"/>
<text class="q" transform="translate(512.34 322.5) rotate(-90)" textLength="64.66" lengthAdjust="spacingAndGlyphs">cqSW.C6-5</text>
<rect x="544.55" y="260.6" width="4.4" height="20.6" fill="#c0005c"/>
<path d="M546.75 267l3.7 3.8l-3.7 3.8l-3.7 -3.8z" fill="#000" stroke="#000" stroke-width="1" stroke-linejoin="round"/>
<text class="q" transform="translate(538.34 303.6) rotate(-90)" textLength="60.37" lengthAdjust="spacingAndGlyphs">cqSY.C6-3</text>
<rect x="418.9" y="347.3" width="4.4" height="34.3" fill="#ff30c8"/>
<path d="M421.1 367.7l3.7 3.8l-3.7 3.8l-3.7 -3.8z" fill="#000" stroke="#000" stroke-width="1" stroke-linejoin="round"/>
<text class="q" transform="translate(416.44 410.4) rotate(-90)" textLength="68.38" lengthAdjust="spacingAndGlyphs">cqSPS.C6-3</text>
<rect x="467.65" y="364.2" width="4.4" height="14.5" fill="#996633"/>
<path d="M469.85 374.9l3.7 3.8l-3.7 3.8l-3.7 -3.8z" fill="#000" stroke="#000" stroke-width="1" stroke-linejoin="round"/>
<text class="q" transform="translate(462.04 409.21) rotate(-90)" textLength="62.27" lengthAdjust="spacingAndGlyphs">cqSV.C6-5</text>
<rect x="490.3" y="328.9" width="4.4" height="32.9" fill="#996633"/>
<path d="M492.5 343.2l3.7 3.8l-3.7 3.8l-3.7 -3.8z" fill="#000" stroke="#000" stroke-width="1" stroke-linejoin="round"/>
<text class="q" transform="translate(485.04 387.4) rotate(-90)" textLength="59.4" lengthAdjust="spacingAndGlyphs">cqSV.C6-4</text>
<rect x="518.1" y="384.3" width="4.4" height="8.2" fill="#00ffff"/>
<path d="M520.3 388.7l3.7 3.8l-3.7 3.8l-3.7 -3.8z" fill="#000" stroke="#000" stroke-width="1" stroke-linejoin="round"/>
<text class="q" transform="translate(511.99 423.8) rotate(-90)" textLength="63.2" lengthAdjust="spacingAndGlyphs">cqSW.C6-6</text>
<rect x="540.55" y="364.2" width="4.4" height="17.4" fill="#c0005c"/>
<path d="M542.75 367.7l3.7 3.8l-3.7 3.8l-3.7 -3.8z" fill="#000" stroke="#000" stroke-width="1" stroke-linejoin="round"/>
<text class="q" transform="translate(537.14 403.21) rotate(-90)" textLength="62.44" lengthAdjust="spacingAndGlyphs">cqSY.C6-4</text>
<rect x="403.15" y="430" width="4.4" height="25" fill="#0000ff"/>
<path d="M405.35 441.5l3.7 3.8l-3.7 3.8l-3.7 -3.8z" fill="#000" stroke="#000" stroke-width="1" stroke-linejoin="round"/>
<text class="q" transform="translate(399.09 464.9) rotate(-90)" textLength="49.9" lengthAdjust="spacingAndGlyphs">cqSD.C6</text>
<rect x="456.2" y="426.6" width="4.4" height="18.8" fill="#996633"/>
<path d="M458.4 430.8l3.7 3.8l-3.7 3.8l-3.7 -3.8z" fill="#000" stroke="#000" stroke-width="1" stroke-linejoin="round"/>
<text class="q" transform="translate(448.79 466.11) rotate(-90)" textLength="64.41" lengthAdjust="spacingAndGlyphs">cqSV.C6-6</text>
<rect x="491.1" y="419.4" width="4.4" height="8.3" fill="#00ffff"/>
<path d="M493.3 423.9l3.7 3.8l-3.7 3.8l-3.7 -3.8z" fill="#000" stroke="#000" stroke-width="1" stroke-linejoin="round"/>
<text class="q" transform="translate(484.59 457.41) rotate(-90)" textLength="67.43" lengthAdjust="spacingAndGlyphs">cqSW.C6-7</text>
<rect x="512.95" y="440.4" width="4.4" height="27.5" fill="#00ffff"/>
<path d="M515.15 450.1l3.7 3.8l-3.7 3.8l-3.7 -3.8z" fill="#000" stroke="#000" stroke-width="1" stroke-linejoin="round"/>
<text class="q" transform="translate(507.41 493.5) rotate(-90)" textLength="62.5" lengthAdjust="spacingAndGlyphs">cqSW.C6-8</text>
<rect x="418.9" y="454.5" width="4.4" height="84.8" fill="#00ff00"/>
<path d="M421.1 493.6l3.7 3.8l-3.7 3.8l-3.7 -3.8z" fill="#000" stroke="#000" stroke-width="1" stroke-linejoin="round"/>
<text class="q" transform="translate(416.66 529.8) rotate(-90)" textLength="61.02" lengthAdjust="spacingAndGlyphs">cqSL.C6-8</text>
<rect x="441.4" y="478.7" width="4.4" height="40.7" fill="#ff0000"/>
<path d="M443.6 495l3.7 3.8l-3.7 3.8l-3.7 -3.8z" fill="#000" stroke="#000" stroke-width="1" stroke-linejoin="round"/>
<text class="q" transform="translate(439.04 543.1) rotate(-90)" textLength="68.25" lengthAdjust="spacingAndGlyphs">cqSPS.C6-9</text>
<rect x="466.85" y="434" width="4.4" height="150.6" fill="#ff30c8"/>
<path d="M469.05 493.6l3.7 3.8l-3.7 3.8l-3.7 -3.8z" fill="#000" stroke="#000" stroke-width="1" stroke-linejoin="round"/>
<text class="q" transform="translate(462.04 527.41) rotate(-90)" textLength="62.44" lengthAdjust="spacingAndGlyphs">cqST.C6-4</text>
<rect x="488.6" y="469" width="4.4" height="38.3" fill="#996633"/>
<path d="M490.8 493.6l3.7 3.8l-3.7 3.8l-3.7 -3.8z" fill="#000" stroke="#000" stroke-width="1" stroke-linejoin="round"/>
<text class="q" transform="translate(486.64 528.6) rotate(-90)" textLength="61.54" lengthAdjust="spacingAndGlyphs">cqSV.C6-7</text>
<rect x="538.25" y="471" width="4.4" height="26.6" fill="#c0005c"/>
<path d="M540.45 480.5l3.7 3.8l-3.7 3.8l-3.7 -3.8z" fill="#000" stroke="#000" stroke-width="1" stroke-linejoin="round"/>
<text class="q" transform="translate(532.44 513.3) rotate(-90)" textLength="60.36" lengthAdjust="spacingAndGlyphs">cqSY.C6-5</text>
<rect x="396.6" y="496.2" width="4.4" height="133" fill="#00ff00"/>
<path d="M398.8 594.6l3.7 3.8l-3.7 3.8l-3.7 -3.8z" fill="#000" stroke="#000" stroke-width="1" stroke-linejoin="round"/>
<text class="q" transform="translate(392.79 625.7) rotate(-90)" textLength="60" lengthAdjust="spacingAndGlyphs">cqSL.C6-6</text>
<rect x="471.65" y="598" width="4.4" height="81.5" fill="#ff0000"/>
<path d="M473.85 601.9l3.7 3.8l-3.7 3.8l-3.7 -3.8z" fill="#000" stroke="#000" stroke-width="1" stroke-linejoin="round"/>
<text class="q" transform="translate(466.91 678.01) rotate(-90)" textLength="76.96" lengthAdjust="spacingAndGlyphs">cqSPS.C6-10</text>
<rect x="508.5" y="598" width="4.4" height="41.6" fill="#996633"/>
<path d="M510.7 626.1l3.7 3.8l-3.7 3.8l-3.7 -3.8z" fill="#000" stroke="#000" stroke-width="1" stroke-linejoin="round"/>
<text class="q" transform="translate(506.01 657.9) rotate(-90)" textLength="60.91" lengthAdjust="spacingAndGlyphs">cqSV.C6-8</text>
<rect x="535.75" y="598" width="4.4" height="41.6" fill="#c0005c"/>
<path d="M537.95 626.1l3.7 3.8l-3.7 3.8l-3.7 -3.8z" fill="#000" stroke="#000" stroke-width="1" stroke-linejoin="round"/>
<text class="q" transform="translate(530.44 660.41) rotate(-90)" textLength="62.01" lengthAdjust="spacingAndGlyphs">cqSY.C6-6</text>
<rect x="443.1" y="688.2" width="4.4" height="105.3" fill="#ff30c8"/>
<path d="M445.3 706.2l3.7 3.8l-3.7 3.8l-3.7 -3.8z" fill="#000" stroke="#000" stroke-width="1" stroke-linejoin="round"/>
<text class="q" transform="translate(439.89 754.51) rotate(-90)" textLength="61.88" lengthAdjust="spacingAndGlyphs">cqST.C6-5</text>
<rect x="536.6" y="698.6" width="4.4" height="35.6" fill="#c0005c"/>
<path d="M538.8 706.2l3.7 3.8l-3.7 3.8l-3.7 -3.8z" fill="#000" stroke="#000" stroke-width="1" stroke-linejoin="round"/>
<text class="q" transform="translate(530.19 744) rotate(-90)" textLength="60.24" lengthAdjust="spacingAndGlyphs">cqSY.C6-7</text>
<rect x="468.4" y="740.4" width="4.4" height="126" fill="#ff30c8"/>
<path d="M470.6 790.1l3.7 3.8l-3.7 3.8l-3.7 -3.8z" fill="#000" stroke="#000" stroke-width="1" stroke-linejoin="round"/>
<text class="q" transform="translate(463.19 840.31) rotate(-90)" textLength="61.41" lengthAdjust="spacingAndGlyphs">cqST.C6-6</text>
<rect x="506.75" y="740.4" width="4.4" height="111.9" fill="#996633"/>
<path d="M508.95 790.1l3.7 3.8l-3.7 3.8l-3.7 -3.8z" fill="#000" stroke="#000" stroke-width="1" stroke-linejoin="round"/>
<text class="q" transform="translate(500.24 831.91) rotate(-90)" textLength="62.35" lengthAdjust="spacingAndGlyphs">cqSV.C6-9</text>
<rect x="536.4" y="744.1" width="4.4" height="91.1" fill="#c0005c"/>
<path d="M538.6 758.8l3.7 3.8l-3.7 3.8l-3.7 -3.8z" fill="#000" stroke="#000" stroke-width="1" stroke-linejoin="round"/>
<text class="q" transform="translate(528.96 818.9) rotate(-90)" textLength="60.82" lengthAdjust="spacingAndGlyphs">cqSY.C6-8</text>
<rect x="421.3" y="890.2" width="4.4" height="116.2" fill="#ff0000"/>
<path d="M423.5 922.7l3.7 3.8l-3.7 3.8l-3.7 -3.8z" fill="#000" stroke="#000" stroke-width="1" stroke-linejoin="round"/>
<text class="q" transform="translate(417.84 977.11) rotate(-90)" textLength="77.25" lengthAdjust="spacingAndGlyphs">cqSPS.C6-11</text>
<rect x="466.75" y="938.8" width="4.4" height="81" fill="#996633"/>
<path d="M468.95 992.4l3.7 3.8l-3.7 3.8l-3.7 -3.8z" fill="#000" stroke="#000" stroke-width="1" stroke-linejoin="round"/>
<text class="q" transform="translate(460.26 1019.01) rotate(-90)" textLength="69.05" lengthAdjust="spacingAndGlyphs">cqSV.C6-10</text>
<rect x="536.6" y="968" width="4.4" height="56.2" fill="#c0005c"/>
<path d="M538.8 992.5l3.7 3.8l-3.7 3.8l-3.7 -3.8z" fill="#000" stroke="#000" stroke-width="1" stroke-linejoin="round"/>
<text class="q" transform="translate(529.84 1026.11) rotate(-90)" textLength="61.66" lengthAdjust="spacingAndGlyphs">cqSY.C6-9</text>
<rect x="381.5" y="431" width="1" height="1" fill="#555"/><rect x="546" y="470" width="1" height="1" fill="#555"/>
<rect x="48.7" y="979.2" width="61.3" height="4.4" fill="#c0005c"/>
<path d="M78.1 977.6l3.6 3.8l-3.6 3.8l-3.6 -3.8z" fill="#000" stroke="#000" stroke-width="1" stroke-linejoin="round"/>
<text class="l" x="115.26" y="985.6" textLength="68.2" lengthAdjust="spacingAndGlyphs">QTL for SY</text>
<rect x="48.7" y="996.8" width="61.3" height="4.4" fill="#ff0000"/>
<path d="M78.1 995.2l3.6 3.8l-3.6 3.8l-3.6 -3.8z" fill="#000" stroke="#000" stroke-width="1" stroke-linejoin="round"/>
<text class="l" x="115.25" y="1003.4" textLength="74.82" lengthAdjust="spacingAndGlyphs">QTL for SPS</text>
<rect x="48.7" y="1014.2" width="61.3" height="4.4" fill="#0000ff"/>
<path d="M78.1 1012.6l3.6 3.8l-3.6 3.8l-3.6 -3.8z" fill="#000" stroke="#000" stroke-width="1" stroke-linejoin="round"/>
<text class="l" x="115.24" y="1021.6" textLength="69.62" lengthAdjust="spacingAndGlyphs">QTL for SD</text>
<rect x="48.7" y="1034.2" width="61.3" height="4.4" fill="#ff30c8"/>
<path d="M77.3 1032.6l3.6 3.8l-3.6 3.8l-3.6 -3.8z" fill="#000" stroke="#000" stroke-width="1" stroke-linejoin="round"/>
<text class="l" x="115.25" y="1040.3" textLength="67.85" lengthAdjust="spacingAndGlyphs">QTL for ST</text>
<rect x="204" y="978.6" width="60.9" height="4.4" fill="#996633"/>
<path d="M233 977l3.6 3.8l-3.6 3.8l-3.6 -3.8z" fill="#000" stroke="#000" stroke-width="1" stroke-linejoin="round"/>
<text class="l" x="270.05" y="984.7" textLength="69.1" lengthAdjust="spacingAndGlyphs">QTL for SV</text>
<rect x="204" y="996.7" width="60.9" height="4.4" fill="#00ff00"/>
<path d="M232.6 995.1l3.6 3.8l-3.6 3.8l-3.6 -3.8z" fill="#000" stroke="#000" stroke-width="1" stroke-linejoin="round"/>
<text class="l" x="270.05" y="1002.7" textLength="68.31" lengthAdjust="spacingAndGlyphs">QTL for SL</text>
<rect x="204" y="1015.1" width="60.9" height="4.4" fill="#ff6600"/>
<path d="M232.6 1013.5l3.6 3.8l-3.6 3.8l-3.6 -3.8z" fill="#000" stroke="#000" stroke-width="1" stroke-linejoin="round"/>
<text class="l" x="270.05" y="1021" textLength="81.16" lengthAdjust="spacingAndGlyphs">QTL for TSW</text>
<rect x="204" y="1032.5" width="60.9" height="4.4" fill="#00ffff"/>
<path d="M232.6 1030.9l3.6 3.8l-3.6 3.8l-3.6 -3.8z" fill="#000" stroke="#000" stroke-width="1" stroke-linejoin="round"/>
<text class="l" x="270.05" y="1039.4" textLength="72.26" lengthAdjust="spacingAndGlyphs">QTL for SW</text>
</svg></body></html>
